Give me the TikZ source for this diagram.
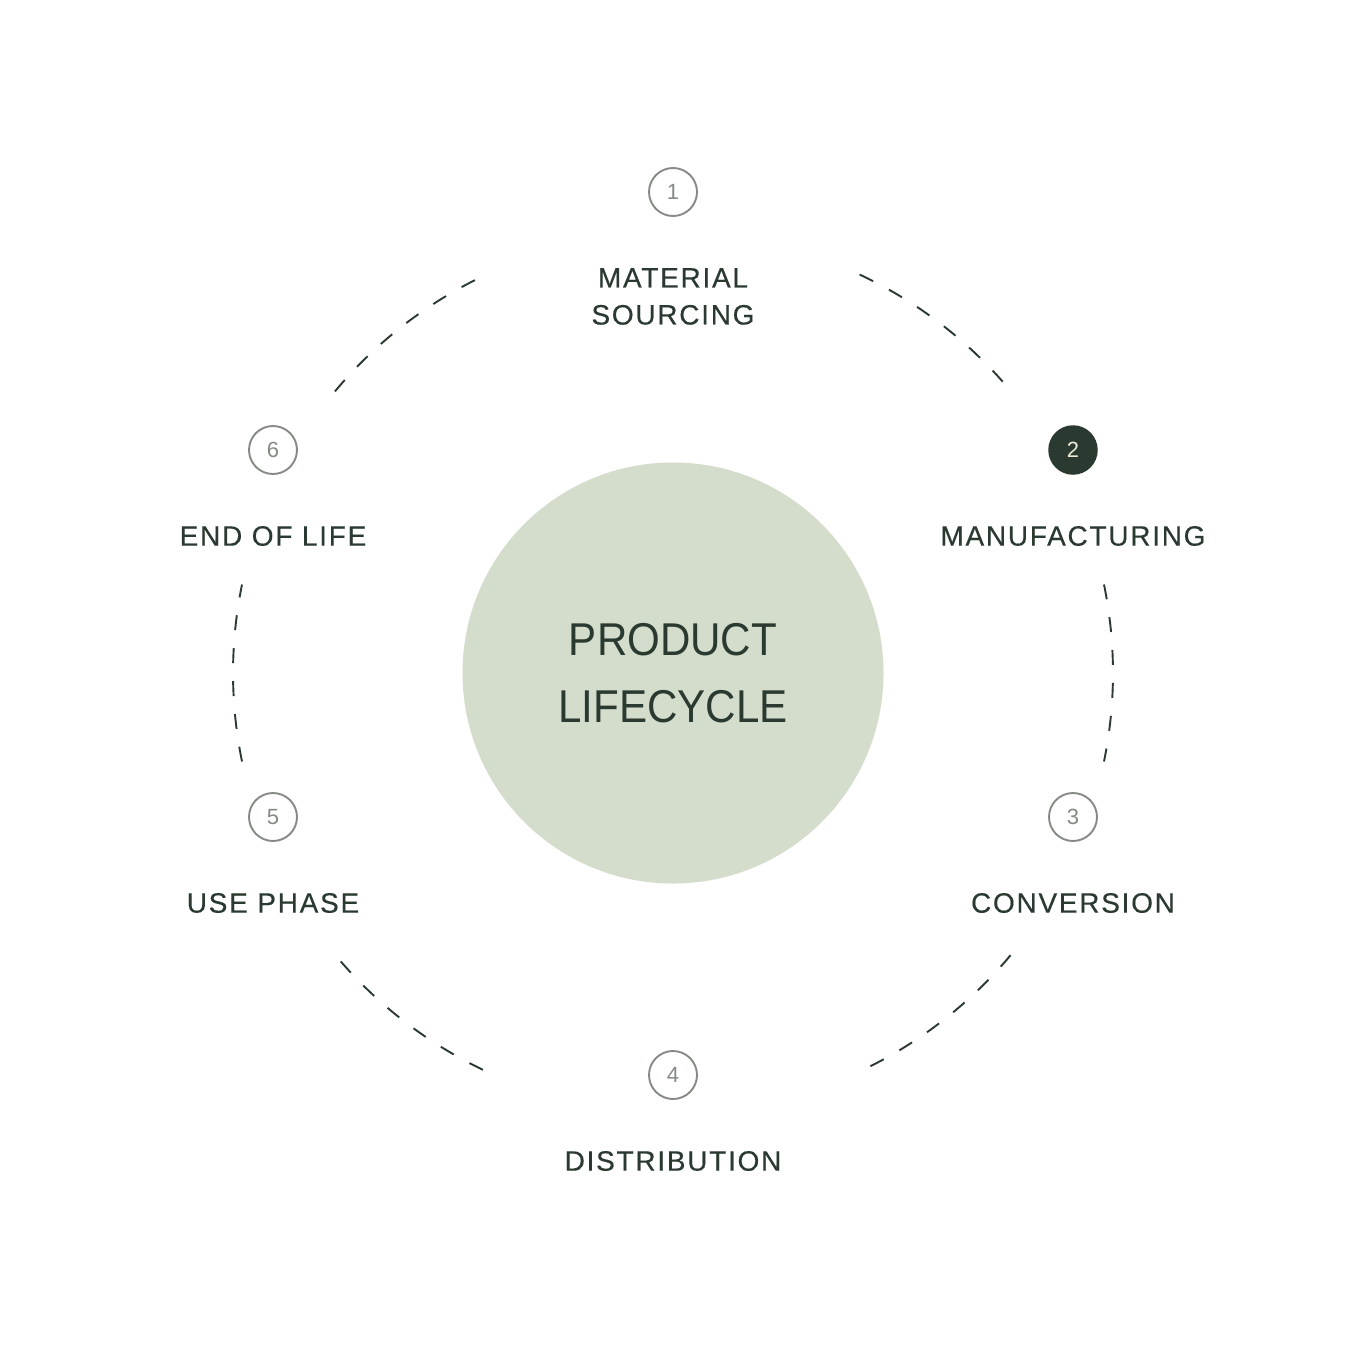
\documentclass[tikz,border=0pt]{standalone}
\usepackage{fontspec}
\setmainfont{Liberation Sans}
\newfontfamily\labelfont{Liberation Sans}[LetterSpace=6.2,FakeBold=0.35]
\newfontfamily\titlefont{Liberation Sans}[FakeStretch=0.915]
\definecolor{ink}{HTML}{2B3A30}
\definecolor{sage}{HTML}{D4DCCB}
\definecolor{numgray}{HTML}{858A85}
\definecolor{cream}{HTML}{ECEADB}
\tikzset{
  numcircle/.style={circle, draw=numgray, line width=1.9pt, minimum size=48pt, inner sep=0pt,
    font=\fontsize{22}{22}\selectfont, text=numgray},
  activenum/.style={circle, fill=ink, minimum size=49.5pt, inner sep=0pt,
    font=\fontsize{22}{22}\selectfont, text=cream},
  steplabel/.style={font=\labelfont\fontsize{28}{37}\selectfont, text=ink, align=center, inner sep=0pt},
  arcline/.style={draw=ink, line width=1.9pt, dash pattern=on 15pt off 18pt},
  hub/.style={circle, fill=sage, minimum size=421pt, inner sep=0pt}
}
\begin{document}
\begin{tikzpicture}[x=1pt,y=-1pt]
\useasboundingbox (0,0) rectangle (1346,1346);
\fill[white] (0,0) rectangle (1346,1346);
\coordinate (c) at (673,673);
% hub
\node[hub] (hubnode) at (c) {};
\node[font=\titlefont\fontsize{46}{67}\selectfont, text=ink, align=center, inner sep=0pt] (title) at (673,673.5) {PRODUCT\\LIFECYCLE};
% numbers
\node[numcircle] (n1) at (673,192) {1};
\node[activenum] (n2) at (1073,450) {2};
\node[numcircle] (n3) at (1073,817) {3};
\node[numcircle] (n4) at (673,1075) {4};
\node[numcircle] (n5) at (273,817) {5};
\node[numcircle] (n6) at (273,450) {6};
% labels
\node[steplabel] (l1) at (673,296.5) {MATERIAL\\SOURCING};
\node[steplabel] (l2) at (1073,536) {MANUFACTURING};
\node[steplabel] (l3) at (1073,903) {CONVERSION};
\node[steplabel] (l4) at (673,1161) {DISTRIBUTION};
\node[steplabel] (l5) at (273,903) {USE PHASE};
\node[steplabel] (l6) at (273,536) {END OF LIFE};
% dashed arcs (angles negated because y axis points down)
\draw[arcline] (c) ++(-64.9:440) arc[start angle=-64.9, end angle=-40.9, radius=440];
\draw[arcline] (c) ++(-11.6:440) arc[start angle=-11.6, end angle=11.6, radius=440];
\draw[arcline] (c) ++(39.9:440) arc[start angle=39.9, end angle=63.9, radius=440];
\draw[arcline] (c) ++(115.6:440) arc[start angle=115.6, end angle=139.6, radius=440];
\draw[arcline] (c) ++(168.4:440) arc[start angle=168.4, end angle=191.6, radius=440];
\draw[arcline] (c) ++(219.8:440) arc[start angle=219.8, end angle=243.8, radius=440];
\end{tikzpicture}
\end{document}
